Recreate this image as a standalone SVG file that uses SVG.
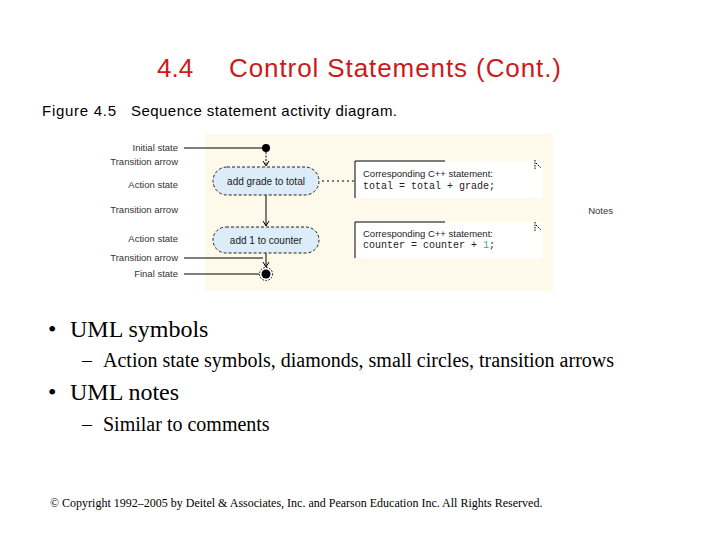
<svg xmlns="http://www.w3.org/2000/svg" width="720" height="540" viewBox="0 0 720 540">
<style>
.title{font-family:"Liberation Sans",Arial,sans-serif;font-size:26px;fill:#cc1a1a}
.cap{font-family:"Liberation Sans",Arial,sans-serif;font-size:15px;fill:#000}
.lbl{font-family:"Liberation Sans",Arial,sans-serif;font-size:9.5px;fill:#333;text-anchor:end}
.act{font-family:"Liberation Sans",Arial,sans-serif;font-size:10px;fill:#222;text-anchor:middle}
.note{font-family:"Liberation Sans",Arial,sans-serif;font-size:9.5px;fill:#222}
.code{font-family:"Liberation Mono","Courier New",monospace;font-size:10px;fill:#222}
.b1{font-family:"Liberation Serif","Times New Roman",serif;font-size:24px;fill:#000}
.b2{font-family:"Liberation Serif","Times New Roman",serif;font-size:20px;fill:#000}
.copy{font-family:"Liberation Serif","Times New Roman",serif;font-size:12px;fill:#000}
.state{fill:#dcecf8;stroke:#222;stroke-width:1;stroke-dasharray:3,2}
.lead{stroke:#000;stroke-width:1.2;fill:none}
.flow{stroke:#000;stroke-width:1;fill:none}
</style>
<defs>
<marker id="arr" markerWidth="8" markerHeight="8" refX="6" refY="4" orient="auto" markerUnits="userSpaceOnUse">
<path d="M1,1 L6,4 L1,7" fill="none" stroke="#000" stroke-width="1"/>
</marker>
</defs>
<rect width="720" height="540" fill="#fff"/>
<text class="title" x="157" y="77">4.4</text>
<text class="title" x="229" y="77" textLength="332" lengthAdjust="spacing">Control Statements (Cont.)</text>
<text class="cap" x="42" y="116" textLength="74" lengthAdjust="spacing">Figure 4.5</text>
<text class="cap" x="131" y="116" textLength="266" lengthAdjust="spacing">Sequence statement activity diagram.</text>

<rect id="bg" x="205" y="134" width="348" height="157" fill="#fef9ea"/>

<g id="labels">
<text class="lbl" x="178" y="151">Initial state</text>
<text class="lbl" x="178" y="165">Transition arrow</text>
<text class="lbl" x="178" y="188">Action state</text>
<text class="lbl" x="178" y="213">Transition arrow</text>
<text class="lbl" x="178" y="242">Action state</text>
<text class="lbl" x="178" y="261">Transition arrow</text>
<text class="lbl" x="178" y="277">Final state</text>
</g>

<g id="connectors">
<line class="lead" x1="184" y1="148" x2="263" y2="148"/>
<line class="lead" x1="184" y1="258" x2="263" y2="258"/>
<line class="lead" x1="184" y1="274" x2="259" y2="274"/>
<line class="flow" x1="266" y1="152" x2="266" y2="166" stroke-dasharray="2,1.5" marker-end="url(#arr)"/>
<line class="flow" x1="266" y1="195" x2="266" y2="226" marker-end="url(#arr)"/>
<line class="flow" x1="266" y1="253" x2="266" y2="267" marker-end="url(#arr)"/>
<line class="flow" x1="322" y1="181" x2="355" y2="181" stroke-dasharray="2,3"/>
</g>

<g id="initial">
<circle cx="266" cy="148" r="4" fill="#000"/>
</g>

<g id="action1">
<rect class="state" x="213" y="167" width="106" height="28" rx="14"/>
<text class="act" x="266" y="185">add grade to total</text>
</g>

<g id="action2">
<rect class="state" x="213" y="227" width="106" height="26" rx="13"/>
<text class="act" x="266" y="244">add 1 to counter</text>
</g>

<g id="final">
<circle cx="266" cy="274" r="6.5" fill="#fff" stroke="#000" stroke-width="1" stroke-dasharray="1.5,1.5"/>
<circle cx="266" cy="274" r="4.5" fill="#000"/>
</g>

<g id="note1">
<rect x="355" y="161" width="188" height="37" fill="#fff"/>
<path d="M355,198 L355,161 L445,161" class="flow"/>
<path d="M535,160 L535,170 M536,163 L541,168" stroke="#000" stroke-width="1" fill="none" stroke-dasharray="1.5,1"/>
<text class="note" x="363" y="177">Corresponding C++ statement:</text>
<text class="code" x="363" y="189">total = total + grade;</text>
</g>

<g id="note2">
<rect x="355" y="222" width="188" height="36" fill="#fff"/>
<path d="M355,258 L355,222 L445,222" class="flow"/>
<path d="M535,222 L535,232 M536,225 L541,230" stroke="#000" stroke-width="1" fill="none" stroke-dasharray="1.5,1"/>
<text class="note" x="363" y="237">Corresponding C++ statement:</text>
<text class="code" x="363" y="248">counter = counter + <tspan fill="#2aa8c8">1</tspan>;</text>
</g>

<text class="lbl" x="613" y="214">Notes</text>

<text class="b1" x="48" y="337">•</text>
<text class="b1" x="70" y="337">UML symbols</text>
<text class="b2" x="82" y="367">–</text>
<text class="b2" x="103" y="367">Action state symbols, diamonds, small circles, transition arrows</text>
<text class="b1" x="48" y="400">•</text>
<text class="b1" x="70" y="400">UML notes</text>
<text class="b2" x="82" y="431">–</text>
<text class="b2" x="103" y="431">Similar to comments</text>
<text class="copy" x="50" y="507">© Copyright 1992–2005 by Deitel &amp; Associates, Inc. and Pearson Education Inc. All Rights Reserved.</text>
</svg>
